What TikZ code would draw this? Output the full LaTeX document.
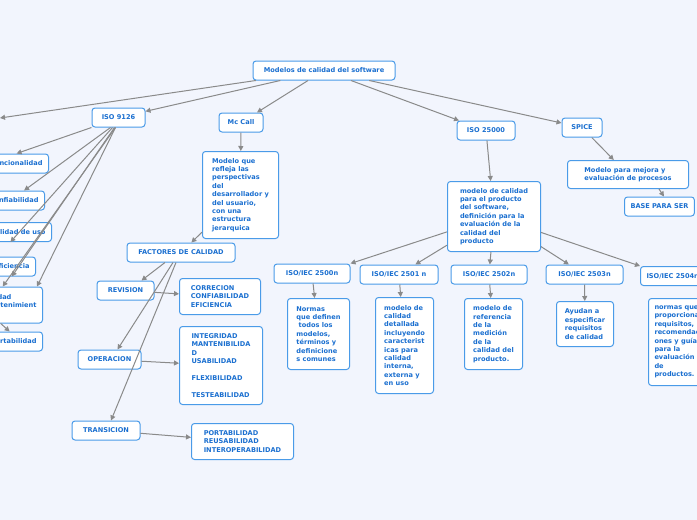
\documentclass[tikz,border=0pt]{standalone}
\usepackage{fontspec}
\setmainfont{DejaVu Sans}[BoldFont={DejaVu Sans Bold}]
\usetikzlibrary{arrows.meta}
\definecolor{bg}{HTML}{F2F5FD}
\definecolor{bd}{HTML}{4A9BE8}
\definecolor{tx}{HTML}{1A6FD0}
\definecolor{ar}{HTML}{8A8A8A}
\tikzset{
 box/.style={draw=bd, fill=white, rounded corners=3pt, line width=1pt, text=tx,
   font=\fontsize{6.6}{8.4}\selectfont\bfseries, inner sep=2pt},
 lbox/.style={box, align=left, anchor=north west, inner xsep=6pt, inner ysep=3pt},
 conn/.style={draw=ar, line width=1pt, -{Triangle[length=5pt,width=5pt]}}
}
\begin{document}
\begin{tikzpicture}[x=1pt,y=-1pt]
\fill[bg] (0,0) rectangle (697,520);
\useasboundingbox (0,0) rectangle (697,520);
\clip (0,0) rectangle (697,520);
\newcommand{\bx}[6][]{\node[box,#1,minimum width=#4-#2,minimum height=#5-#3] (#6) at ({(#2+#4)/2},{(#3+#5)/2})}
\bx{253}{61}{395}{80}{root} {Modelos de calidad del software};
\bx{92}{108}{145}{127}{iso} {ISO 9126};
\bx{219}{113}{263}{132}{mc} {Mc Call};
\bx{457}{121}{515}{140}{i25} {ISO 25000};
\bx{562}{118}{602}{137}{spice} {SPICE};
\coordinate (offl) at (0,118);
% ISO 9126 children (cut at left)
\node[box,anchor=east,minimum height=19,inner xsep=6pt] (c1) at (49,163.5) {Funcionalidad};
\node[box,anchor=east,minimum height=19,inner xsep=6pt] (c2) at (45,200.5) {Confiabilidad};
\node[box,anchor=east,minimum height=19,inner xsep=6pt] (c3) at (52,232) {Facilidad de uso};
\node[box,anchor=east,minimum height=19,inner xsep=6pt] (c4) at (36,266.5) {Eficiencia};
\node[box,anchor=east,minimum height=36,align=left,inner xsep=6pt] (c5) at (43,305) {Capacidad\\de mantenimient\\o};
\node[box,anchor=east,minimum height=19,inner xsep=6pt] (c6) at (43,341.5) {Portabilidad};
% Mc Call
\node[lbox,minimum width=76,minimum height=87] (mcd) at (202,151) {Modelo que\\refleja las\\perspectivas\\del\\desarrollador y\\del usuario,\\con una\\estructura\\jerarquica};
\bx{127}{243}{235}{262}{fac} {FACTORES DE CALIDAD};
\bx{97}{281}{154}{300}{rev} {REVISION};
\bx{78}{350}{141}{369}{ope} {OPERACION};
\bx{72}{421}{140}{440}{tra} {TRANSICION};
\node[lbox,minimum width=81,minimum height=36] (revd) at (179,278) {CORRECION\\CONFIABILIDAD\\EFICIENCIA};
\node[lbox,minimum width=83,minimum height=78] (oped) at (179,326) {INTEGRIDAD\\MANTENIBILIDA\\D\\USABILIDAD\\[8.4pt]FLEXIBILIDAD\\[8.4pt]TESTEABILIDAD};
\node[lbox,minimum width=102,minimum height=36] (trad) at (191,423) {PORTABILIDAD\\REUSABILIDAD\\INTEROPERABILIDAD};
% ISO 25000
\node[lbox,minimum width=93,minimum height=70] (i25d) at (447,181) {modelo de calidad\\para el producto\\del software,\\definición para la\\evaluación de la\\calidad del\\producto};
\bx{274}{264}{350}{283}{n0} {ISO/IEC 2500n};
\bx{360}{265}{438}{284}{n1} {ISO/IEC 2501 n};
\bx{451}{265}{527}{284}{n2} {ISO/IEC 2502n};
\bx{546}{265}{623}{284}{n3} {ISO/IEC 2503n};
\node[box,anchor=west,minimum height=19,inner xsep=6pt] (n4) at (640,276) {ISO/IEC 2504n};
\node[lbox,minimum width=62,minimum height=71] (d0) at (287,298) {Normas\\que definen\\\ todos los\\modelos,\\términos y\\definicione\\s comunes};
\node[lbox,minimum width=58,minimum height=96] (d1) at (375,297) {modelo de\\calidad\\detallada\\incluyendo\\caracterist\\icas para\\calidad\\interna,\\externa y\\en uso};
\node[lbox,minimum width=58,minimum height=71] (d2) at (464,298) {modelo de\\referencia\\de la\\medición\\de la\\calidad del\\producto.};
\node[lbox,minimum width=57,minimum height=45] (d3) at (556,301) {Ayudan a\\especificar\\requisitos\\de calidad};
\node[lbox,minimum width=60,minimum height=87] (d4) at (648,298) {normas que\\proporcionan\\requisitos,\\recomendaci\\ones y guías\\para la\\evaluación\\de\\productos.};
% SPICE
\node[lbox,minimum width=121,minimum height=28] (spd) at (567,160) {Modelo para mejora y\\evaluación de procesos};
\node[box,anchor=west,minimum height=19,inner xsep=6pt] (base) at (624,206.5) {BASE PARA SER};
% connectors
\draw[conn] (root) -- (offl);
\draw[conn] (root) -- (iso);
\draw[conn] (root) -- (mc);
\draw[conn] (root) -- (i25);
\draw[conn] (root) -- (spice);
\draw[conn] (iso.south west) -- (c1.north);
\draw[conn] ([xshift=-8]iso.south) -- ([xshift=10]c2.north);
\draw[conn] ([xshift=-6]iso.south) -- ([xshift=-5]c3.south);
\draw[conn] ([xshift=-4]iso.south) -- ([xshift=0]c4.south);
\draw[conn] ([xshift=-3]iso.south) -- ([xshift=-2]c5.north);
\draw[conn] ([xshift=-3]iso.south) -- ([xshift=-6]c5.north east);
\draw[conn] (c5.south) ++(-4,0) -- ([xshift=-4]c6.north);
\draw[conn] (mc) -- (mcd);
\draw[conn] (mcd) -- (fac);
\draw[conn] ([xshift=-16]fac.south) -- ([xshift=16]rev.north);
\draw[conn] ([xshift=-8]fac.south) -- ([xshift=8]ope.north);
\draw[conn] ([xshift=-5]fac.south) -- ([xshift=5]tra.north);
\draw[conn] (rev) -- (revd);
\draw[conn] (ope) -- (oped);
\draw[conn] (tra) -- (trad);
\draw[conn] (i25) -- (i25d);
\draw[conn] (i25d) -- (n0.north east);
\draw[conn] (i25d) -- (n1);
\draw[conn] (i25d) -- (n2);
\draw[conn] (i25d) -- (n3);
\draw[conn] (i25d) -- (n4.north west);
\draw[conn] (n0) -- (d0);
\draw[conn] (n1) -- (d1);
\draw[conn] (n2) -- (d2);
\draw[conn] (n3) -- (d3);
\draw[conn] (n4.south -| d4.north) ++(32,0) -- ++(0,14);
\draw[conn] (spice) -- (spd);
\draw[conn] (spd.south east) ++(-30,0) -- ([xshift=40]base.north west);
\end{tikzpicture}
\end{document}
